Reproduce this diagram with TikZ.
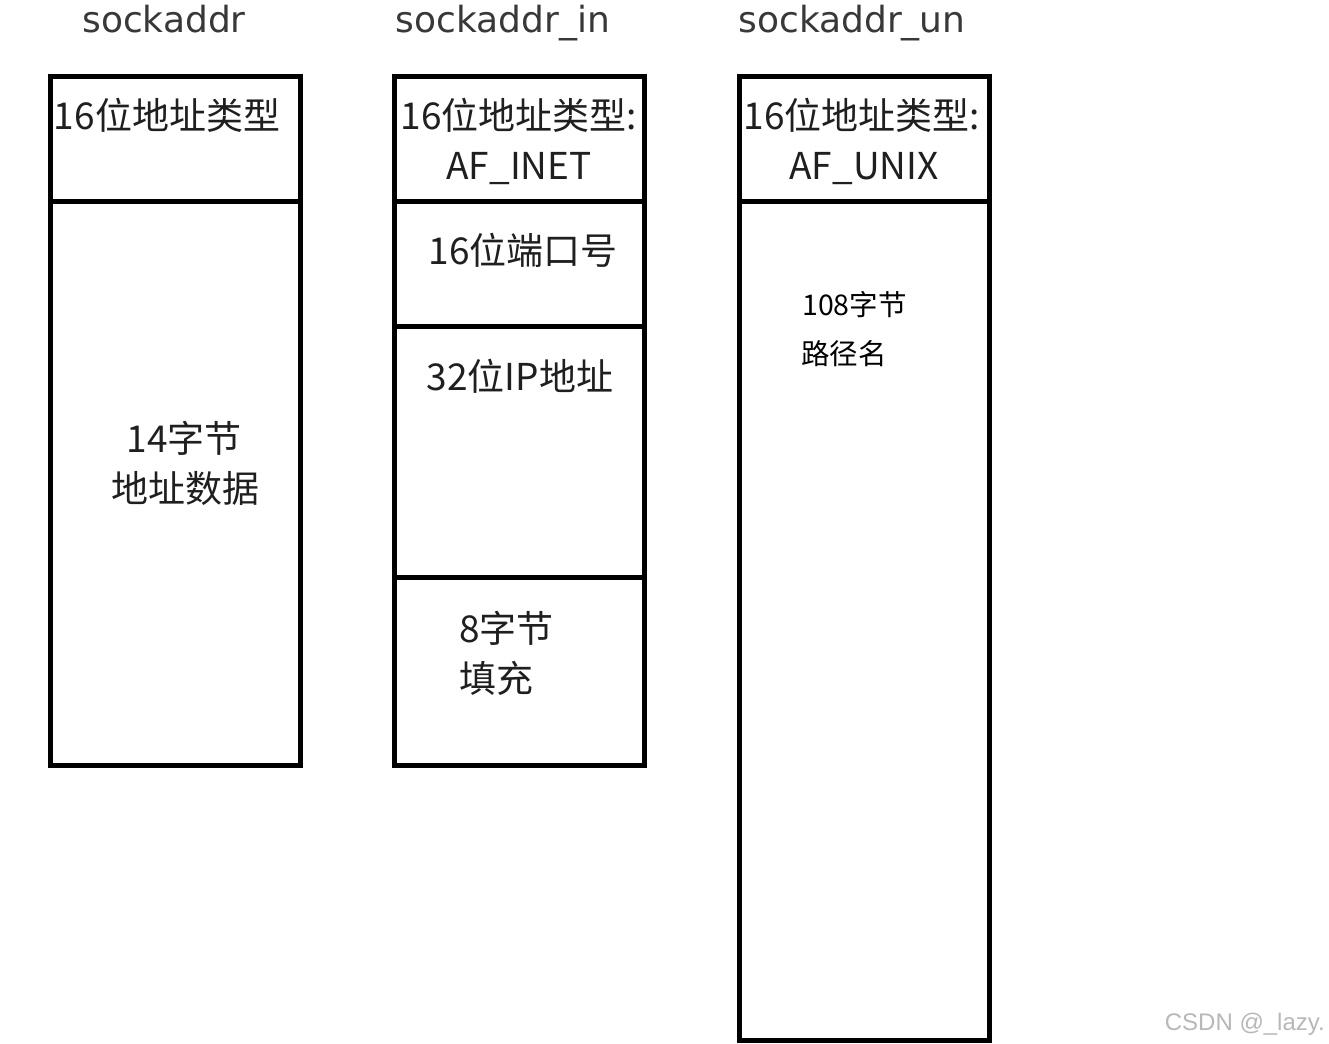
\documentclass[tikz,border=0pt]{standalone}
\usepackage{fontspec}
\setmainfont{DejaVu Sans}
\newfontfamily\cjk{Noto Sans CJK SC}
\newfontfamily\wmfont{Liberation Sans}
\begin{document}
\begin{tikzpicture}[x=1pt,y=-1pt,
  boxline/.style={line width=5pt, line join=miter},
  title/.style={font=\fontsize{36}{40}\selectfont, text=black!78, inner sep=0pt, anchor=base},
  lbl/.style={font=\cjk\fontsize{37}{40}\selectfont, text=black!88, inner sep=0pt, anchor=base},
  lblw/.style={lbl, anchor=base west},
  small/.style={font=\cjk\fontsize{28.5}{32}\selectfont, inner sep=0pt, anchor=base west},
  wm/.style={font=\wmfont\fontsize{24}{28}\selectfont, text=black!28, inner sep=0pt, anchor=base east}]
\useasboundingbox[fill=white] (0,0) rectangle (1329,1043);

% titles
\node[title] (t1) at (164,33) {sockaddr};
\node[title] (t2) at (503,33) {sockaddr\_in};
\node[title] (t3) at (852,33) {sockaddr\_un};

% box 1: sockaddr
\draw[boxline] (50,77) rectangle (300,765);
\draw[boxline] (50,201) -- (300,201);
\node[lbl] (a1) at (167,130) {16位地址类型};
\node[lbl] (a2) at (184,452) {14字节};
\node[lbl] (a3) at (185,502) {地址数据};

% box 2: sockaddr_in
\draw[boxline] (394,77) rectangle (644,765);
\draw[boxline] (394,201) -- (644,201);
\draw[boxline] (394,326) -- (644,326);
\draw[boxline] (394,577) -- (644,577);
\node[lbl] (b1) at (519,130) {16位地址类型:};
\node[lbl] (b2) at (519,179) {AF\_INET};
\node[lbl] (b3) at (523,264) {16位端口号};
\node[lbl] (b4) at (520,390) {32位IP地址};
\node[lblw] (b5) at (459,642) {8字节};
\node[lblw] (b6) at (459,692) {填充};
\fill[white] (600,609) rectangle (642,763);

% box 3: sockaddr_un
\draw[boxline] (739,77) rectangle (989,1040);
\draw[boxline] (739,201) -- (989,201);
\node[lbl] (c1) at (862,130) {16位地址类型:};
\node[lbl] (c2) at (864,179) {AF\_UNIX};
\node[small] (c3) at (802,315) {108字节};
\node[small] (c4) at (801,364) {路径名};

% watermark
\node[wm] (w) at (1325,1030) {CSDN @\_lazy.};
\end{tikzpicture}
\end{document}
